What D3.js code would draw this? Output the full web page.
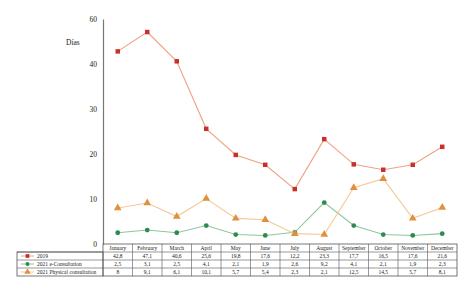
<!DOCTYPE html>
<html>
<head>
<meta charset="utf-8">
<script src="https://cdn.jsdelivr.net/npm/d3@7"></script>
<style>
  body { margin: 0; background: #fff; }
  text { font-family: "Liberation Serif", "DejaVu Serif", serif; fill: #222; }
</style>
</head>
<body>
<div id="chart"></div>
<script>
const months = ["January", "February", "March", "April", "May", "June", "July",
  "August", "September", "October", "November", "December"];
const seriesNames = ["2019", "2021 e-Consultation", "2021 Physical consultation"];
const values2019 = [42.8, 47.1, 40.6, 25.6, 19.8, 17.6, 12.2, 23.3, 17.7, 16.5, 17.6, 21.6];
const valuesECons = [2.5, 3.1, 2.5, 4.1, 2.1, 1.9, 2.6, 9.2, 4.1, 2.1, 1.9, 2.3];
const valuesPhys = [8, 9.1, 6.1, 10.1, 5.7, 5.4, 2.3, 2.1, 12.5, 14.5, 5.7, 8.1];
const yTickValues = [0, 10, 20, 30, 40, 50];
const yTickLabels = ["0", "10", "20", "30", "40", "60"];
const yTitle = "Días";

const width = 474, height = 294;
const plotLeft = 103, plotRight = 457, plotTop = 19, plotBottom = 244;
const rowH = 8, labelLeft = 17;

const svg = d3.select("#chart").append("svg")
  .attr("width", width).attr("height", height);

const x = d3.scaleBand().domain(months).range([plotLeft, plotRight]);
const y = d3.scaleLinear().domain([0, 50]).range([plotBottom, plotTop]);

const styles = [
  { values: values2019, line: "#eea383", mark: "#c9302c", shape: d3.symbolSquare, size: 20 },
  { values: valuesECons, line: "#8fc79b", mark: "#2e8b50", shape: d3.symbolCircle, size: 18 },
  { values: valuesPhys, line: "#f5c894", mark: "#e0913c", shape: d3.symbolTriangle, size: 26 }
];

// y axis
const yAxis = svg.append("g").attr("transform", `translate(${plotLeft},0)`)
  .call(d3.axisLeft(y).tickValues(yTickValues).tickSize(0).tickPadding(6)
    .tickFormat((d, i) => yTickLabels[i]));
yAxis.select(".domain").attr("stroke", "#777").attr("stroke-width", 1.2);
yAxis.selectAll("text").style("font-family", '"Liberation Serif", serif')
  .style("font-size", "7.5px").attr("fill", "#222");

svg.append("text").attr("x", 66).attr("y", 45).style("font-size", "7.5px").text(yTitle);

// lines and markers
const cx = m => x(m) + x.bandwidth() / 2;
const line = d3.line().x((d, i) => cx(months[i])).y(d => y(d));
styles.forEach(s => {
  svg.append("path").datum(s.values).attr("d", line)
    .attr("fill", "none").attr("stroke", s.line).attr("stroke-width", 1.1);
  svg.selectAll(null).data(s.values).join("path")
    .attr("transform", (d, i) => `translate(${cx(months[i])},${y(d)})`)
    .attr("d", d3.symbol().type(s.shape).size(s.size))
    .attr("fill", s.mark);
});

// data table
const table = svg.append("g");
const border = "#555";
const fmt = v => String(v).replace(".", ",");
table.append("rect").attr("x", plotLeft).attr("y", plotBottom).attr("width", plotRight - plotLeft).attr("height", rowH * 4)
  .attr("fill", "none").attr("stroke", border).attr("stroke-width", 0.8);
table.append("rect").attr("x", labelLeft).attr("y", plotBottom + rowH).attr("width", plotLeft - labelLeft).attr("height", rowH * 3)
  .attr("fill", "none").attr("stroke", border).attr("stroke-width", 0.8);
for (let r = 1; r < 4; r++) {
  table.append("line").attr("x1", labelLeft).attr("x2", plotRight)
    .attr("y1", plotBottom + rowH * r).attr("y2", plotBottom + rowH * r)
    .attr("stroke", border).attr("stroke-width", 0.6);
}
months.forEach((m, i) => {
  if (i > 0) table.append("line").attr("x1", x(m)).attr("x2", x(m))
    .attr("y1", plotBottom).attr("y2", plotBottom + rowH * 4).attr("stroke", border).attr("stroke-width", 0.6);
  table.append("text").attr("x", cx(m)).attr("y", plotBottom + rowH - 2)
    .attr("text-anchor", "middle").style("font-size", "5.5px").text(m);
  styles.forEach((s, r) => {
    table.append("text").attr("x", cx(m)).attr("y", plotBottom + rowH * (r + 2) - 2)
      .attr("text-anchor", "middle").style("font-size", "5.5px").text(fmt(s.values[i]));
  });
});
styles.forEach((s, r) => {
  const yy = plotBottom + rowH * (r + 1) + rowH / 2;
  table.append("line").attr("x1", 21).attr("x2", 34).attr("y1", yy).attr("y2", yy)
    .attr("stroke", s.line).attr("stroke-width", 1);
  table.append("path").attr("transform", `translate(27.5,${yy})`)
    .attr("d", d3.symbol().type(s.shape).size(s.size * 0.7)).attr("fill", s.mark);
  table.append("text").attr("x", 37).attr("y", yy + 1.9).style("font-size", "5.5px").text(seriesNames[r]);
});
</script>
</body>
</html>
